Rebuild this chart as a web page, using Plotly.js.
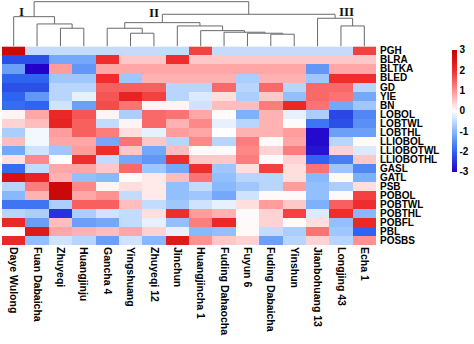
<!DOCTYPE html>
<html><head><meta charset="utf-8">
<script src="https://cdn.plot.ly/plotly-3.0.1.min.js"></script>
<style>html,body{margin:0;padding:0;background:#fff}</style>
</head><body><div id="chart" style="width:474px;height:344px"></div>
<script>
const cultivars = ['Daye Wulong','Fuan Dabaicha','Zhuyeqi','Huangjinju','Gancha 4','Yingshuang','Zhuyeqi 12','Jinchun','Huangjincha 1','Fuding Dahaocha','Fuyun 6','Fuding Dabaicha','Yinshun','Jianbohuang 13','Longjing 43','Echa 1'];
const traits = ['PGH','BLRA','BLTKA','BLED','GD','YIE','BN','LOBOL','LOBTWL','LOBTHL','LLIOBOL','LLIOBOTWL','LLIOBOTHL','GASL','GATL','PSB','POBOL','POBTWL','POBTHL','POBFL','PBL','POSBS'];
const PGH       = [2.8,-0.5,-0.5,-0.5,-0.5,-0.5,-0.5,-0.5,1.8,-0.5,-0.5,-0.5,-0.5,-0.5,-0.5,1.8];
const BLRA      = [-2.2,-2.2,-1.2,-1.2,2.0,0.5,0.5,2.0,0.5,0.5,0.5,0.5,0.5,0.5,0.5,0.5];
const BLTKA     = [-1.3,-3.0,0.9,-1.4,0.8,0.8,0.8,0.8,0.8,0.8,0.8,0.8,0.8,-1.4,0.8,0.8];
const BLED      = [-2.0,-2.0,-0.8,-0.8,2.0,-0.8,0.7,0.7,0.7,0.7,-0.7,0.7,0.7,-0.8,2.0,2.0];
const GD        = [-2.2,-2.2,-0.6,-0.6,1.5,1.5,1.5,-0.6,-0.6,1.4,-0.6,1.4,-0.6,1.4,1.4,-0.6];
const YIE       = [-2.0,-1.4,-0.6,-0.2,1.6,2.2,1.8,-0.6,-0.3,0.3,-0.7,0.5,-0.9,1.4,1.3,-1.2];
const BN        = [-1.9,-2.0,-0.4,-1.3,1.7,1.3,0.1,0.1,-0.4,0.6,0.6,1.2,2.1,1.3,-1.2,-0.8];
const LOBOL     = [0.1,0.8,2.1,1.6,0.1,-0.7,1.4,1.3,0.8,0.05,-1.1,0.7,-0.2,-0.7,-2.3,-1.6];
const LOBTWL    = [0.4,0.6,2.2,1.5,-0.5,0.1,1.4,0.7,1.1,-0.2,-0.6,0.7,0.05,-1.8,-2.2,-1.5];
const LOBTHL    = [-0.7,-0.1,0.9,1.5,1.2,0.3,-0.2,0.9,0.8,0.0,0.7,0.7,0.9,-2.9,-1.3,-1.3];
const LLIOBOL   = [0.6,-0.1,0.8,0.8,-1.2,1.3,0.5,-0.6,1.1,-0.6,1.2,0.05,0.8,-2.9,-0.6,0.05];
const LLIOBOTWL = [-1.2,-0.4,-0.8,0.9,2.0,0.5,-1.2,0.6,0.05,0.05,1.1,0.4,1.2,-2.8,0.4,-0.3];
const LLIOBOTHL = [0.3,1.1,0.0,2.0,-0.5,-1.2,-1.4,2.0,0.5,0.5,1.2,0.05,0.4,-2.0,-1.7,0.5];
const GASL      = [-1.9,-0.5,0.8,0.8,0.5,1.4,-0.8,-1.2,2.0,-0.8,0.3,1.8,0.3,1.3,-0.8,-1.6];
const GATL      = [2.6,2.2,0.7,-0.9,-1.0,0.05,0.2,0.6,1.3,-0.9,-0.6,-0.6,0.3,-1.0,0.05,-1.1];
const PSB       = [-0.6,1.2,2.8,1.1,0.1,0.3,0.2,-0.9,-0.5,-1.0,-0.8,-0.6,0.9,-0.9,-0.7,0.3];
const POBOL     = [-1.0,0.7,2.8,0.8,1.0,-0.5,0.2,-0.9,-0.8,-1.2,-0.4,0.05,0.05,-0.9,0.05,1.8];
const POBTWL    = [-1.8,-1.8,-0.7,1.5,1.5,0.6,-0.5,-0.8,-0.4,-0.2,0.3,0.9,0.5,-1.1,1.5,2.0];
const POBTHL    = [-0.6,-0.7,-2.5,-0.7,-0.4,-0.5,0.3,2.0,0.9,0.7,0.05,0.4,1.8,-0.3,2.0,-1.0];
const POBFL     = [2.1,-1.3,0.6,-1.3,-1.2,-0.5,-0.2,-0.9,1.2,2.1,0.05,0.4,0.05,0.3,-0.9,2.1];
const PBL       = [0.05,2.4,0.8,0.7,0.6,0.8,0.4,-0.2,-1.0,-0.9,0.05,-0.5,-0.7,1.3,-0.8,-2.0];
const POSBS     = [2.1,-0.9,-0.4,-0.6,-1.3,-0.4,-1.0,2.4,1.0,0.5,0.4,-1.3,-0.6,0.4,-0.6,1.0];
const values = [PGH,BLRA,BLTKA,BLED,GD,YIE,BN,LOBOL,LOBTWL,LOBTHL,LLIOBOL,LLIOBOTWL,LLIOBOTHL,GASL,GATL,PSB,POBOL,POBTWL,POBTHL,POBFL,PBL,POSBS];

// column dendrogram linkage: [left node, right node, merge height]; leaves 0..15, merges 16..
const linkage = [
  [11,12,12.2],[10,16,13.2],[9,17,14.2],[8,18,15.8],[7,19,20.5],
  [5,6,13.2],[4,21,18.2],[22,20,23.8],
  [14,15,20.5],[13,24,28.2],
  [2,3,18.2],[1,26,22.5],[0,27,29.8],
  [23,25,32.2],[28,29,44.8]
];
const clusterNames = ['I','II','III'];
const clusterNodes = [28,23,25];
const colorTicks = [3,2,1,0,-1,-2,-3];
const colorTickText = ['3','2','1','0','-1','-2','-3'];

const nLeaf = cultivars.length;
const pos = {}, hgt = {};
for (let i = 0; i < nLeaf; i++) { pos[i] = i; hgt[i] = 0; }
const dx = [], dy = [];
linkage.forEach((m, k) => {
  const id = nLeaf + k, a = m[0], b = m[1], h = m[2];
  dx.push(pos[a], pos[a], pos[b], pos[b], null);
  dy.push(hgt[a], h, h, hgt[b], null);
  pos[id] = (pos[a] + pos[b]) / 2; hgt[id] = h;
});

const W = 474, H = 344;
const plotL = 2, plotR = 376.4, plotT = 0, plotB = 245.5;
const heatTop = 46.5;
const plotH = plotB - plotT, plotW = plotR - plotL;
const split = (plotB - heatTop) / plotH;

const font = {family: 'Liberation Sans, Arial, sans-serif', size: 10, color: '#000', weight: 'bold'};

const colorscale = [
  [0, 'rgb(35,0,200)'],
  [0.1667, 'rgb(45,100,240)'],
  [0.3333, 'rgb(135,185,252)'],
  [0.5, 'rgb(255,255,255)'],
  [0.6667, 'rgb(255,145,145)'],
  [0.8333, 'rgb(240,45,45)'],
  [1, 'rgb(195,0,0)']
];

const heat = {
  type: 'heatmap', z: values, x: cultivars.map((c, i) => i), y: traits,
  xaxis: 'x', yaxis: 'y', zmin: -3, zmax: 3, colorscale: colorscale,
  hoverinfo: 'skip',
  colorbar: {
    x: (452.7 - plotL) / plotW, xanchor: 'left', xref: 'paper',
    y: 1 - (50 - plotT) / plotH, yanchor: 'top', yref: 'paper',
    len: 122, lenmode: 'pixels', thickness: 5, thicknessmode: 'pixels',
    outlinewidth: 0, xpad: 0, ypad: 0, ticks: '',
    tickvals: colorTicks, ticktext: colorTickText, tickfont: font
  }
};
const dendro = {
  type: 'scatter', mode: 'lines', x: dx, y: dy, xaxis: 'x', yaxis: 'y2',
  line: {color: '#6a6a6a', width: 1}, hoverinfo: 'skip', cliponaxis: false, showlegend: false
};

const labelOffsets = [[-0.53, 4.7], [-0.35, 9.7], [0.47, 6.8]];
const annotations = clusterNames.map((t, i) => ({
  text: t, x: pos[clusterNodes[i]] + labelOffsets[i][0], y: hgt[clusterNodes[i]] + labelOffsets[i][1],
  xref: 'x', yref: 'y2', showarrow: false, xanchor: 'center', yanchor: 'middle',
  font: {family: 'Liberation Serif, Times New Roman, serif', size: 13, color: '#111', weight: 'bold'}
}));

const layout = {
  width: W, height: H,
  margin: {l: plotL, r: W - plotR, t: plotT, b: H - plotB, pad: 0, autoexpand: false},
  paper_bgcolor: '#fff', plot_bgcolor: '#fff', showlegend: false,
  xaxis: {domain: [0, 1], range: [-0.5, nLeaf - 0.5], tickmode: 'array', tickvals: cultivars.map((c, i) => i), ticktext: cultivars,
    tickangle: 90, ticks: '', showgrid: false, zeroline: false, showline: false, automargin: false,
    tickfont: Object.assign({}, font, {size: 10.5}), anchor: 'y', ticklabelstandoff: 1},
  yaxis: {domain: [0, split], type: 'category', autorange: 'reversed', side: 'right', ticks: '',
    tickmode: 'array', tickvals: traits, ticktext: traits,
    showgrid: false, zeroline: false, showline: false, automargin: false, tickfont: font, anchor: 'x', ticklabelstandoff: 3},
  yaxis2: {domain: [split, 1], range: [0, heatTop], visible: false, anchor: 'x', fixedrange: true},
  annotations: annotations
};

Plotly.newPlot('chart', [heat, dendro], layout, {displayModeBar: false, staticPlot: true});
</script></body></html>
